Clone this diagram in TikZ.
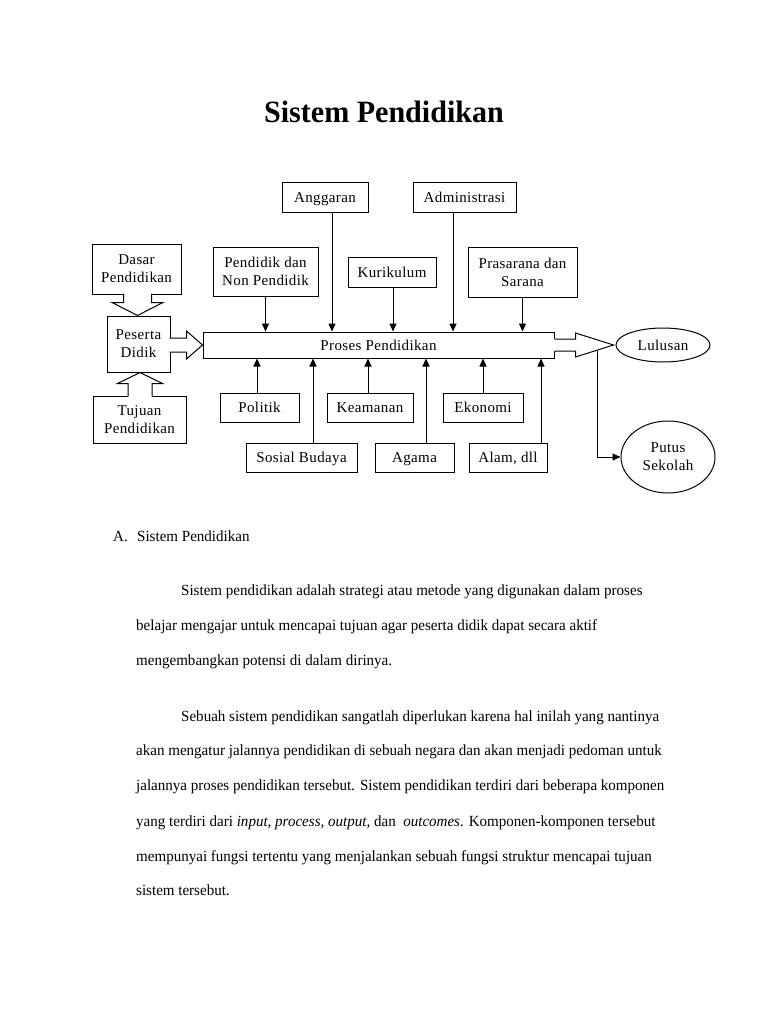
\documentclass[tikz,border=0pt]{standalone}
\usepackage{fontspec}
\setmainfont{Liberation Serif}
\newfontfamily\bodyfont{Liberation Serif}[FakeStretch=0.97]
\newfontfamily\diagfont{Liberation Serif}[LetterSpace=2.5]
\usetikzlibrary{arrows.meta,calc,shapes.geometric}
\tikzset{
  box/.style={draw, line width=1pt, inner sep=0pt, align=center,
    font=\diagfont\fontsize{15}{18}\selectfont},
  onebox/.style={box, text height=10.5pt, text depth=0.5pt},
  oval/.style={ellipse, draw, line width=1pt, inner sep=0pt, align=center,
    font=\diagfont\fontsize{15}{18}\selectfont},
  arr/.style={-{Triangle[length=8pt,width=7pt]}, line width=1pt},
  blockarrow/.style={draw, line width=1pt, line join=miter},
  txt/.style={anchor=base west, inner sep=0pt,
    font=\bodyfont\fontsize{15.5}{18}\selectfont}
}
\begin{document}
\begin{tikzpicture}[x=1pt,y=-1pt]
\fill[white] (0,0) rectangle (768,1024);
\useasboundingbox (0,0) rectangle (768,1024);

% title
\node[anchor=base, inner sep=0pt, font=\bodyfont\bfseries\fontsize{31}{36}\selectfont] (title) at (384,123) {Sistem Pendidikan};

% diagram boxes
\node[box, minimum width=89, minimum height=50] (dasar) at (136.5,269) {Dasar\\Pendidikan};
\node[box, minimum width=63, minimum height=56] (peserta) at (138.5,344) {Peserta\\Didik};
\node[box, minimum width=93, minimum height=47] (tujuan) at (139.5,419.5) {Tujuan\\Pendidikan};
\node[onebox, minimum width=351, minimum height=26] (proses) at (378.5,345) {Proses Pendidikan};
\node[box, minimum width=105, minimum height=49] (pendidik) at (265.5,271.5) {Pendidik dan\\Non Pendidik};
\node[onebox, minimum width=86, minimum height=30] (angg) at (325,198) {Anggaran};
\node[onebox, minimum width=88, minimum height=30] (kur) at (392,272) {Kurikulum};
\node[onebox, minimum width=103, minimum height=30] (adm) at (464.5,198) {Administrasi};
\node[box, minimum width=109, minimum height=50] (pras) at (522.5,272) {Prasarana dan\\Sarana};
\node[onebox, minimum width=79, minimum height=29] (pol) at (259.5,407.5) {Politik};
\node[onebox, minimum width=86, minimum height=29] (keam) at (370,407.5) {Keamanan};
\node[onebox, minimum width=80, minimum height=29] (eko) at (483,407.5) {Ekonomi};
\node[onebox, minimum width=111, minimum height=29] (sos) at (301.5,457.5) {Sosial Budaya};
\node[onebox, minimum width=79, minimum height=29] (aga) at (414.5,457.5) {Agama};
\node[onebox, minimum width=78, minimum height=29] (alam) at (508,457.5) {Alam, dll};
\node[oval, text height=10.5pt, text depth=0.5pt, minimum width=94, minimum height=34] (lulus) at (663,345) {Lulusan};
\node[oval, minimum width=94, minimum height=72] (putus) at (668,457) {Putus\\Sekolah};

% arrows down into Proses
\draw[arr] (pendidik.south) -- (pendidik.south |- proses.north);
\draw[arr] ([xshift=7pt]angg.south) -- ([xshift=7pt]angg.south |- proses.north);
\draw[arr] ([xshift=1pt]kur.south) -- ([xshift=1pt]kur.south |- proses.north);
\draw[arr] ([xshift=-11.5pt]adm.south) -- ([xshift=-11.5pt]adm.south |- proses.north);
\draw[arr] (pras.south) -- (pras.south |- proses.north);
% arrows up into Proses
\draw[arr] ([xshift=-2.5pt]pol.north) -- ([xshift=-2.5pt]pol.north |- proses.south);
\draw[arr] ([xshift=11.5pt]sos.north) -- ([xshift=11.5pt]sos.north |- proses.south);
\draw[arr] ([xshift=-2pt]keam.north) -- ([xshift=-2pt]keam.north |- proses.south);
\draw[arr] ([xshift=11.5pt]aga.north) -- ([xshift=11.5pt]aga.north |- proses.south);
\draw[arr] (eko.north) -- (eko.north |- proses.south);
\draw[arr] ([xshift=33pt]alam.north) -- ([xshift=33pt]alam.north |- proses.south);

% block arrow Dasar -> Peserta
\coordinate (t1) at ([xshift=-1pt]peserta.north);
\fill[white] ($(t1)+(-14,-23)$) -- ($(t1)+(-14,-13)$) -- ($(t1)+(-25.5,-13)$) -- (t1) -- ($(t1)+(25.5,-13)$) -- ($(t1)+(14,-13)$) -- ($(t1)+(14,-23)$) -- cycle;
\draw[blockarrow] ($(t1)+(-14,-22)$) -- ($(t1)+(-14,-13)$) -- ($(t1)+(-25.5,-13)$) -- (t1) -- ($(t1)+(25.5,-13)$) -- ($(t1)+(14,-13)$) -- ($(t1)+(14,-22)$);

% block arrow Tujuan -> Peserta
\coordinate (t2) at ([xshift=1.5pt]peserta.south);
\fill[white] ($(t2)+(-12,25)$) -- ($(t2)+(-12,11)$) -- ($(t2)+(-22.5,11)$) -- (t2) -- ($(t2)+(22.5,11)$) -- ($(t2)+(12,11)$) -- ($(t2)+(12,25)$) -- cycle;
\draw[blockarrow] ($(t2)+(-12,24)$) -- ($(t2)+(-12,11)$) -- ($(t2)+(-22.5,11)$) -- (t2) -- ($(t2)+(22.5,11)$) -- ($(t2)+(12,11)$) -- ($(t2)+(12,24)$);

% block arrow Peserta -> Proses
\coordinate (t3) at (proses.west);
\fill[white] ($(t3)+(-34,-7)$) -- ($(t3)+(-16,-7)$) -- ($(t3)+(-16,-14)$) -- (t3) -- ($(t3)+(-16,14)$) -- ($(t3)+(-16,7)$) -- ($(t3)+(-34,7)$) -- cycle;
\draw[blockarrow] ($(t3)+(-33,-7)$) -- ($(t3)+(-16,-7)$) -- ($(t3)+(-16,-14)$) -- (t3) -- ($(t3)+(-16,14)$) -- ($(t3)+(-16,7)$) -- ($(t3)+(-33,7)$);

% block arrow Proses -> Lulusan
\coordinate (e1) at (proses.east);
\fill[white] ($(e1)+(-1,-6)$) -- ($(e1)+(21,-6)$) -- ($(e1)+(21,-12)$) -- ($(e1)+(59,0)$) -- ($(e1)+(21,12)$) -- ($(e1)+(21,6)$) -- ($(e1)+(-1,6)$) -- cycle;
\draw[blockarrow] ($(e1)+(0,-6)$) -- ($(e1)+(21,-6)$) -- ($(e1)+(21,-12)$) -- ($(e1)+(59,0)$) -- ($(e1)+(21,12)$) -- ($(e1)+(21,6)$) -- ($(e1)+(0,6)$);

% branch to Putus Sekolah
\coordinate (split) at ($(e1)+(43,5.5)$);
\draw[arr] (split) |- (putus.west);

% body text
\node[txt] (secA) at (113,541) {\makebox[24pt][l]{A.}Sistem Pendidikan};
\node[txt] (p1a) at (181,595) {Sistem pendidikan adalah strategi atau metode yang digunakan dalam proses};
\node[txt] (p1b) at (136,630) {belajar mengajar untuk mencapai tujuan agar peserta didik dapat secara aktif};
\node[txt] (p1c) at (136,665) {mengembangkan potensi di dalam dirinya.};
\node[txt] (p2a) at (181,721) {Sebuah sistem pendidikan sangatlah diperlukan karena hal inilah yang nantinya};
\node[txt] (p2b) at (136,755.5) {akan mengatur jalannya pendidikan di sebuah negara dan akan menjadi pedoman untuk};
\node[txt] (p2c) at (136,790.5) {jalannya proses pendidikan tersebut. Sistem pendidikan terdiri dari beberapa komponen};
\node[txt] (p2d) at (136,826) {yang terdiri dari \textit{input, process, output,} dan\ \ \textit{outcomes}. Komponen-komponen tersebut};
\node[txt] (p2e) at (136,861) {mempunyai fungsi tertentu yang menjalankan sebuah fungsi struktur mencapai tujuan};
\node[txt] (p2f) at (136,895.5) {sistem tersebut.};
\end{tikzpicture}
\end{document}
